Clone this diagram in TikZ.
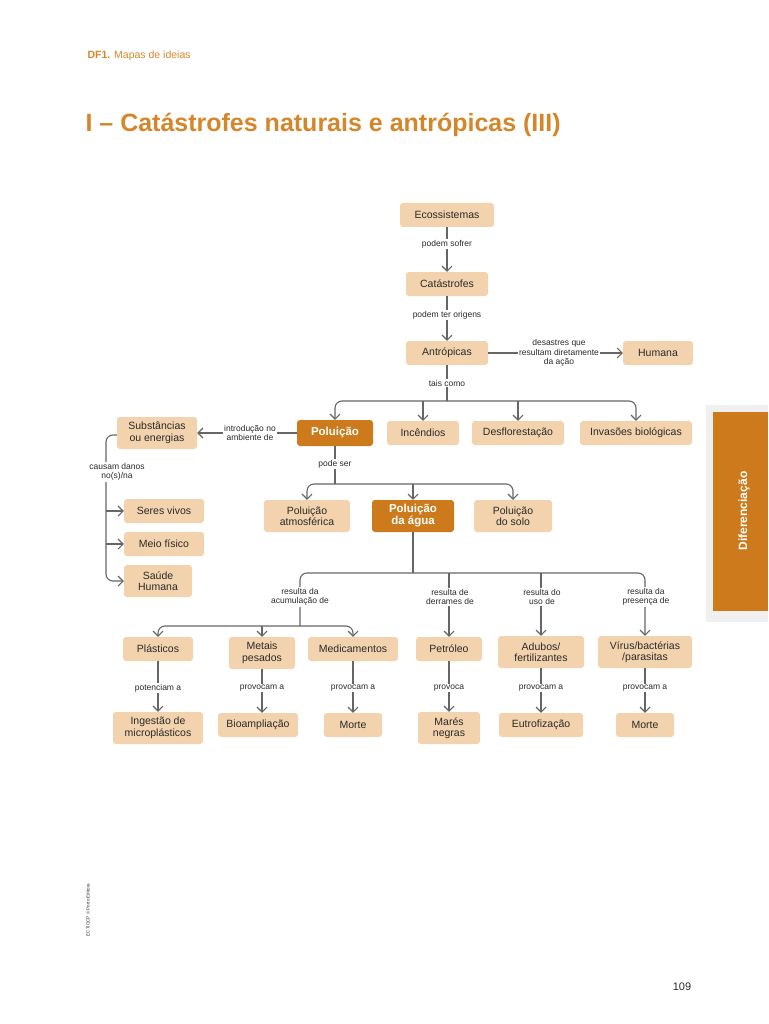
\documentclass[tikz,border=0pt]{standalone}
\usepackage{fontspec}
\setmainfont{Liberation Sans}
\usetikzlibrary{arrows.meta}
\definecolor{peach}{HTML}{F3D3AE}
\definecolor{dorange}{HTML}{CC7A1C}
\definecolor{torange}{HTML}{D6862A}
\definecolor{lgrey}{HTML}{666666}
\definecolor{txt}{HTML}{2A2A2A}
\begin{document}
\begin{tikzpicture}[x=1pt,y=-1pt,
  box/.style={fill=peach,rounded corners=3pt,align=center,text=txt,font=\fontsize{10.5}{11.5}\selectfont,inner sep=0pt,minimum height=24pt},
  dbox/.style={box,fill=dorange,text=white,font=\fontsize{11.5}{12}\selectfont\bfseries},
  lab/.style={fill=white,align=center,text=txt,font=\fontsize{8.5}{9.5}\selectfont,inner sep=1pt},
  ln/.style={draw=lgrey,line width=1.1pt},
  arr/.style={ln,-{Straight Barb[length=5pt,width=10pt]}},
  rc/.style={rounded corners=7pt}]
\useasboundingbox (0,0) rectangle (768,1024);
% header
\node[anchor=west,text=torange,font=\fontsize{10.5}{11}\selectfont] (hd) at (84,56) {\textbf{DF1.} Mapas de ideias};
\node[anchor=west,text=torange,font=\fontsize{25}{27}\selectfont\bfseries] (tt) at (82,125) {I – Catástrofes naturais e antrópicas (III)};
\node[text=txt,font=\fontsize{11}{12}\selectfont] (pg) at (682,987) {109};
\node[rotate=90,text=txt,font=\fontsize{4.5}{5}\selectfont] (cp) at (88,910) {ECTIOCP © Porto Editora};
% side tab
\fill[gray!12] (706,405) rectangle (768,622);
\fill[dorange] (713,412) rectangle (768,611);
\node[rotate=90,text=white,font=\fontsize{12}{13}\selectfont\bfseries] (tab) at (744,511) {Diferenciação};
% top chain
\node[box,minimum width=94pt] (eco) at (447,215) {Ecossistemas};
\node[box,minimum width=82pt] (cat) at (447,284) {Catástrofes};
\node[box,minimum width=82pt] (ant) at (447,353) {Antrópicas};
\node[box,minimum width=70pt] (hum) at (658,353) {Humana};
\draw[arr] (eco) -- (cat);
\node[lab] (l1) at (447,244) {podem sofrer};
\draw[arr] (cat) -- (ant);
\node[lab] (l2) at (447,315) {podem ter origens};
\draw[arr] (ant) -- (hum);
\node[lab] (l3) at (559,353) {desastres que\\resultam diretamente\\da ação};
% row 2
\node[dbox,minimum width=76pt,minimum height=26pt] (pol) at (335,433) {Poluição};
\node[box,minimum width=72pt] (inc) at (423,433) {Incêndios};
\node[box,minimum width=92pt] (des) at (518,433) {Desflorestação};
\node[box,minimum width=112pt] (inv) at (636,433) {Invasões biológicas};
\coordinate (h1) at (447,401);
\draw[ln] (ant) -- (h1);
\node[lab] (l4) at (447,383) {tais como};
\draw[arr,rc] (h1) -| (pol.north);
\draw[arr,rc] (h1) -| (inv.north);
\draw[arr] (inc.north|-h1) -- (inc.north);
\draw[arr] (des.north|-h1) -- (des.north);
% left branch
\node[box,minimum width=80pt,minimum height=32pt] (sub) at (157,433) {Substâncias\\ou energias};
\draw[arr] (pol) -- (sub);
\node[lab] (l5) at (250,433) {introdução no\\ambiente de};
\node[box,minimum width=80pt] (ser) at (164,511) {Seres vivos};
\node[box,minimum width=80pt] (mei) at (164,544) {Meio físico};
\node[box,minimum width=68pt,minimum height=32pt] (sau) at (158,581) {Saúde\\Humana};
\coordinate (v1) at (106,435);
\draw[arr,rc] (sub.west|-v1) -| (106,581) -- (sau.west);
\draw[arr] (v1|-ser) -- (ser.west);
\draw[arr] (v1|-mei) -- (mei.west);
\node[lab] (l6) at (117,472) {causam danos\\no(s)/na};
% row 3
\node[box,minimum width=86pt,minimum height=32pt] (atm) at (307,516) {Poluição\\atmosférica};
\node[dbox,minimum width=82pt,minimum height=32pt] (agu) at (413,516) {Poluição\\da água};
\node[box,minimum width=78pt,minimum height=32pt] (sol) at (513,516) {Poluição\\do solo};
\coordinate (h2) at (335,484);
\draw[ln] (pol) -- (h2);
\node[lab] (l7) at (335,464) {pode ser};
\draw[arr,rc] (h2) -| (atm.north);
\draw[arr,rc] (h2) -| (sol.north);
\draw[arr] (agu.north|-h2) -- (agu.north);
% row 4
\node[box,minimum width=70pt] (pla) at (158,649) {Plásticos};
\node[box,minimum width=66pt,minimum height=32pt] (met) at (262,653) {Metais\\pesados};
\node[box,minimum width=90pt] (med) at (353,649) {Medicamentos};
\node[box,minimum width=66pt] (pet) at (449,649) {Petróleo};
\node[box,minimum width=86pt,minimum height=32pt] (adu) at (541,652) {Adubos/\\fertilizantes};
\node[box,minimum width=94pt,minimum height=32pt] (vir) at (645,652) {Vírus/bactérias\\/parasitas};
\coordinate (h3) at (413,573);
\draw[ln] (agu) -- (h3);
\coordinate (h4) at (300,626);
\draw[ln,rc] (h3) -| (h4);
\node[lab] (l8) at (300,597) {resulta da\\acumulação de};
\draw[arr,rc] (h4) -| (pla.north);
\draw[arr,rc] (h4) -| (med.north);
\draw[arr] (met.north|-h4) -- (met.north);
\draw[arr,rc] (h3) -| (vir.north);
\draw[arr] (pet.north|-h3) -- (pet.north);
\draw[arr] (adu.north|-h3) -- (adu.north);
\node[lab] (l9) at (450,597) {resulta de\\derrames de};
\node[lab] (l10) at (542,597) {resulta do\\uso de};
\node[lab] (l11) at (646,597) {resulta da\\presença de};
% row 5
\node[box,minimum width=90pt,minimum height=32pt] (ing) at (158,728) {Ingestão de\\microplásticos};
\node[box,minimum width=80pt] (bio) at (258,725) {Bioampliação};
\node[box,minimum width=58pt] (mo1) at (353,725) {Morte};
\node[box,minimum width=62pt,minimum height=32pt] (mar) at (449,728) {Marés\\negras};
\node[box,minimum width=84pt] (eut) at (541,725) {Eutrofização};
\node[box,minimum width=58pt] (mo2) at (645,725) {Morte};
\draw[arr] (pla) -- (pla|-ing.north);
\draw[arr] (met) -- (met|-bio.north);
\draw[arr] (med) -- (mo1);
\draw[arr] (pet) -- (mar);
\draw[arr] (adu) -- (eut);
\draw[arr] (vir) -- (mo2);
\node[lab] at (158,688) {potenciam a};
\node[lab] at (262,688) {provocam a};
\node[lab] at (353,688) {provocam a};
\node[lab] at (449,688) {provoca};
\node[lab] at (541,688) {provocam a};
\node[lab] at (645,688) {provocam a};
\end{tikzpicture}
\end{document}
